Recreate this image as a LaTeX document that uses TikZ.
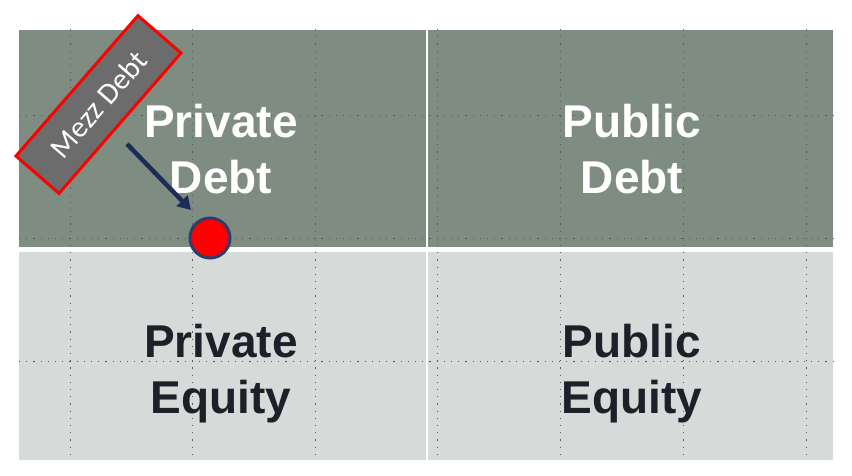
\documentclass[tikz,border=0pt]{standalone}
\usepackage{fontspec}
\setmainfont{Liberation Sans}
\newfontfamily\carlitofont{Carlito}
\usetikzlibrary{arrows.meta}
\definecolor{topgreen}{RGB}{127,140,130}
\definecolor{botgray}{RGB}{214,219,217}
\definecolor{darktext}{RGB}{30,31,40}
\definecolor{mezzgray}{RGB}{108,108,108}
\definecolor{navyarrow}{RGB}{28,44,84}
\definecolor{navyring}{RGB}{44,62,110}
\definecolor{dotcolor}{RGB}{85,92,88}
\begin{document}
\begin{tikzpicture}[x=1pt,y=-1pt,
  gridline/.style={draw=dotcolor, line width=0.9pt, dash pattern=on 1.2pt off 6pt},
  bigtext/.style={font=\bfseries\fontsize{46}{56}\selectfont, align=center, anchor=north, inner sep=0pt},
  bigw/.style={bigtext, text=white},
  bigd/.style={bigtext, text=darktext},
  mezzbox/.style={draw=red, line width=3pt, fill=mezzgray, text=white, minimum width=186pt, minimum height=57pt, inner sep=0pt, font=\carlitofont\fontsize{30}{36}\selectfont},
  arrowline/.style={draw=navyarrow, line width=4.5pt, -{Triangle[length=13pt,width=15pt]}},
  reddot/.style={circle, fill=red, draw=navyring, line width=3pt, minimum size=40pt, inner sep=0pt}]
\useasboundingbox (0,0) rectangle (852,475);
% background panels
\fill[topgreen] (19,30) rectangle (833,247);
\fill[botgray] (19,252) rectangle (833,460);
% dotted grid
\foreach \x in {70,192.5,315,437.5,560,683,806} \draw[gridline] (\x,29) -- (\x,460);
\foreach \y in {115,238,361} \draw[gridline] (19,\y) -- (833,\y);
% white dividers
\fill[white] (19,247) rectangle (833,252);
\draw[white, line width=2pt] (427,30) -- (427,460);
% labels
\node[bigw] (pd) at (221,104) {Private\\Debt};
\node[bigw] (pubd) at (632,104) {Public\\Debt};
\node[bigd] (pe) at (221,324) {Private\\Equity};
\node[bigd] (pube) at (632,324) {Public\\Equity};
% mezz debt box
\node[mezzbox, rotate=49] (mz) at (98.5,104.5) {Mezz Debt};
% red dot and arrow
\node[reddot] (dot) at (210,238) {};
\coordinate (astart) at (127,144);
\coordinate (aend) at (191,210);
\draw[arrowline] (astart) -- (aend);
\end{tikzpicture}
\end{document}
